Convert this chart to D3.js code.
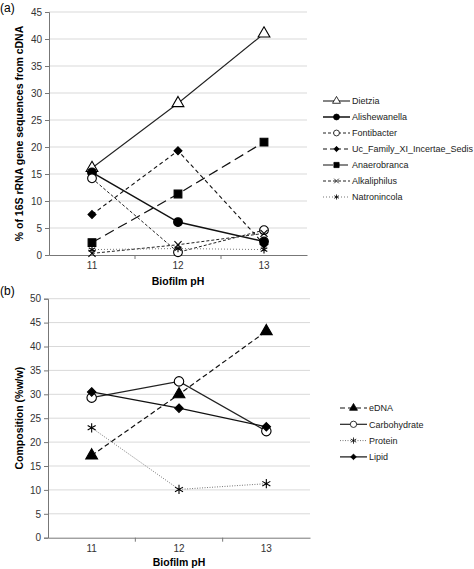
<!DOCTYPE html>
<html>
<head>
<meta charset="utf-8">
<script src="https://cdn.jsdelivr.net/npm/d3@7"></script>
<style>
body { margin: 0; background: #fff; }
svg { font-family: "Liberation Sans", Arial, sans-serif; }
</style>
</head>
<body>
<div id="chart"></div>
<script>
// categories
var phLevels = ["11", "12", "13"];

// panel (a) series
var dietzia = [16.1, 28.1, 41.0];
var alishewanella = [15.3, 6.1, 2.5];
var fontibacter = [14.2, 0.5, 4.6];
var ucFamily = [7.5, 19.3, 2.0];
var anaerobranca = [2.3, 11.3, 20.9];
var alkaliphilus = [0.3, 1.9, 4.0];
var natronincola = [1.0, 1.2, 1.0];

// panel (b) series
var eDNA = [17.2, 30.0, 43.2];
var carbohydrate = [29.3, 32.7, 22.3];
var protein = [23.0, 10.1, 11.3];
var lipid = [30.5, 27.1, 23.2];

var ticksA = [0, 5, 10, 15, 20, 25, 30, 35, 40, 45];
var ticksB = [0, 5, 10, 15, 20, 25, 30, 35, 40, 45, 50];

var seriesA = [
	{name: "Dietzia", values: dietzia, sym: d3.symbolTriangle, size: 60, fill: "#fff", dash: null, width: 1.1, color: "#222"},
	{name: "Alishewanella", values: alishewanella, sym: d3.symbolCircle, size: 60, fill: "#000", dash: null, width: 1.5, color: "#111"},
	{name: "Fontibacter", values: fontibacter, sym: d3.symbolCircle, size: 60, fill: "#fff", dash: "3,2", width: 1, color: "#222"},
	{name: "Uc_Family_XI_Incertae_Sedis", values: ucFamily, sym: d3.symbolDiamond2, size: 40, fill: "#000", dash: "4,3", width: 1.1, color: "#111"},
	{name: "Anaerobranca", values: anaerobranca, sym: d3.symbolSquare, size: 60, fill: "#000", dash: "10,5", width: 1.2, color: "#111"},
	{name: "Alkaliphilus", values: alkaliphilus, sym: d3.symbolTimes, size: 35, fill: "none", dash: "3,2", width: 1, color: "#222"},
	{name: "Natronincola", values: natronincola, sym: d3.symbolAsterisk, size: 40, fill: "none", dash: "1,2", width: 1, color: "#777"}
];

var seriesB = [
	{name: "eDNA", values: eDNA, sym: d3.symbolTriangle, size: 60, fill: "#000", dash: "5,3", width: 1.2, color: "#111"},
	{name: "Carbohydrate", values: carbohydrate, sym: d3.symbolCircle, size: 70, fill: "#fff", dash: null, width: 1.2, color: "#222"},
	{name: "Protein", values: protein, sym: d3.symbolAsterisk, size: 60, fill: "none", dash: "1,1.5", width: 1, color: "#777"},
	{name: "Lipid", values: lipid, sym: d3.symbolDiamond2, size: 45, fill: "#000", dash: null, width: 1.2, color: "#111"}
];

var svg = d3.select("#chart").append("svg")
	.attr("width", 474)
	.attr("height", 569);

function drawPanel(opt)
{
	var x = d3.scaleBand().domain(phLevels).range([opt.left, opt.right]);
	var y = d3.scaleLinear().domain([0, opt.max]).range([opt.bottom, opt.top]);
	var cx = function(i) { return x(phLevels[i]) + x.bandwidth() / 2; };

	var g = svg.append("g");

	// gridlines
	g.selectAll(".grid")
		.data(opt.ticks.filter(function(t) { return t > 0; }))
		.enter().append("line")
		.attr("x1", opt.left).attr("x2", opt.right)
		.attr("y1", function(d) { return y(d); })
		.attr("y2", function(d) { return y(d); })
		.style("stroke", "#d9d9d9")
		.style("stroke-width", 1);

	// y axis
	var yAxis = g.append("g")
		.attr("transform", "translate(" + opt.left + ",0)")
		.call(d3.axisLeft(y).tickValues(opt.ticks).tickSize(4).tickPadding(3));
	yAxis.select(".domain").style("stroke", "#777");
	yAxis.selectAll(".tick line").style("stroke", "#777");
	yAxis.selectAll("text").style("font-size", "10px").style("fill", "#333");

	// x axis
	var xAxis = g.append("g")
		.attr("transform", "translate(0," + opt.bottom + ")")
		.call(d3.axisBottom(x).tickSize(0).tickPadding(7).tickSizeOuter(0));
	xAxis.select(".domain").style("stroke", "#777");
	xAxis.selectAll("text").style("font-size", "10px").style("fill", "#333");
	xAxis.selectAll(".bound")
		.data(phLevels.slice(1))
		.enter().append("line")
		.attr("x1", function(d) { return x(d); })
		.attr("x2", function(d) { return x(d); })
		.attr("y1", 0).attr("y2", 4)
		.style("stroke", "#777");

	// axis titles
	g.append("text")
		.attr("x", (opt.left + opt.right) / 2)
		.attr("y", opt.xTitleY)
		.attr("text-anchor", "middle")
		.style("font-size", "10.5px")
		.style("font-weight", "bold")
		.text("Biofilm pH");

	g.append("text")
		.attr("transform", "translate(" + opt.yTitleX + "," + ((opt.top + opt.bottom) / 2) + ") rotate(-90)")
		.attr("text-anchor", "middle")
		.style("font-size", "10.5px")
		.style("font-weight", "bold")
		.text(opt.yTitle);

	g.append("text")
		.attr("x", 0)
		.attr("y", opt.labelY)
		.style("font-size", "12px")
		.text(opt.label);

	var line = d3.line()
		.x(function(d, i) { return cx(i); })
		.y(function(d) { return y(d); });

	opt.series.forEach(function(s) {
		g.append("path")
			.datum(s.values)
			.attr("d", line)
			.style("fill", "none")
			.style("stroke", s.color)
			.style("stroke-width", s.width)
			.style("stroke-dasharray", s.dash);
	});

	opt.series.forEach(function(s) {
		g.selectAll(null)
			.data(s.values)
			.enter().append("path")
			.attr("transform", function(d, i) { return "translate(" + cx(i) + "," + y(d) + ")"; })
			.attr("d", d3.symbol().type(s.sym).size(s.size))
			.style("fill", s.fill)
			.style("stroke", "#000")
			.style("stroke-width", 1.1);
	});

	// legend
	var leg = g.append("g");
	opt.series.forEach(function(s, i) {
		var ly = opt.legTop + i * opt.legStep;
		leg.append("line")
			.attr("x1", opt.legX).attr("x2", opt.legX + 27)
			.attr("y1", ly).attr("y2", ly)
			.style("stroke", s.color)
			.style("stroke-width", s.width)
			.style("stroke-dasharray", s.dash);
		leg.append("path")
			.attr("transform", "translate(" + (opt.legX + 13.5) + "," + ly + ")")
			.attr("d", d3.symbol().type(s.sym).size(s.size * 0.45))
			.style("fill", s.fill)
			.style("stroke", "#000")
			.style("stroke-width", 0.8);
		leg.append("text")
			.attr("x", opt.legX + 29)
			.attr("y", ly + 3.3)
			.style("font-size", "9px")
			.style("fill", "#222")
			.text(s.name);
	});
}

drawPanel({
	left: 49, right: 307, top: 12, bottom: 255, max: 45, ticks: ticksA,
	series: seriesA, yTitle: "% of 16S rRNA gene sequences from cDNA",
	yTitleX: 23, xTitleY: 285, label: "(a)", labelY: 12,
	legX: 323, legTop: 101, legStep: 16
});

drawPanel({
	left: 48, right: 310, top: 298.7, bottom: 537.7, max: 50, ticks: ticksB,
	series: seriesB, yTitle: "Composition (%w/w)",
	yTitleX: 23, xTitleY: 566, label: "(b)", labelY: 295,
	legX: 340, legTop: 408, legStep: 16.3
});
</script>
</body>
</html>
